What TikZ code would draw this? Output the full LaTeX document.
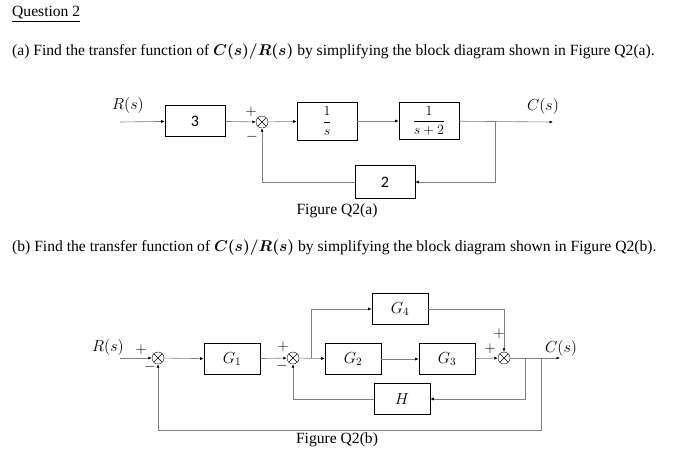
\RequirePackage{fix-cm}
\documentclass[tikz,border=0pt]{standalone}
\usepackage{amsmath,bm}
\usepackage{fontspec}
\setmainfont{Liberation Serif}
\newfontfamily\blk{Carlito}
\usetikzlibrary{arrows.meta}
\begin{document}
\begin{tikzpicture}[x=1pt,y=-1pt,
  blk/.style={draw=black,line width=0.6pt,minimum width=#1,minimum height=31pt,inner sep=0pt,font=\blk\fontsize{16}{17}\selectfont},
  blk/.default=60pt,
  sum/.style={draw=black,circle,minimum size=12pt,inner sep=0pt,path picture={
    \draw[black] (path picture bounding box.north west)--(path picture bounding box.south east)
     (path picture bounding box.north east)--(path picture bounding box.south west);}},
  sig/.style={draw=black!50,line width=0.6pt},
  arr/.style={sig,-{Latex[length=3.5pt,width=3pt,black]}},
  lbl/.style={font=\fontsize{16}{17}\selectfont},
  sgn/.style={font=\fontsize{15}{16}\selectfont,inner sep=0pt},
  txt/.style={anchor=west,inner sep=0pt,font=\fontsize{15.6}{18}\selectfont}]
\useasboundingbox (0,0) rectangle (700,458);
% texts
\node[txt] (q) at (12,14) {\underline{Question 2}};
\node[txt] (ta) at (12,52) {(a) Find the transfer function of $\bm{C(s)/R(s)}$ by simplifying the block diagram shown in Figure Q2(a).};
\node[txt] (tb) at (12,248) {(b) Find the transfer function of $\bm{C(s)/R(s)}$ by simplifying the block diagram shown in Figure Q2(b).};
\node[font=\fontsize{15.6}{18}\selectfont] (fa) at (337,211) {Figure Q2(a)};
\node[font=\fontsize{15.6}{18}\selectfont] (fb) at (337,440) {Figure Q2(b)};

% ---- Figure Q2(a)
\coordinate (ain) at (120,122);
\node[lbl] (ra) at (128,105) {$R(s)$};
\node[blk] (b3) at (195,121) {3};
\node[sum] (s1) at (262,122) {};
\node[blk,minimum height=38pt,font=\fontsize{14}{15}\selectfont] (bi) at (327,121) {$\dfrac{1}{s}$};
\node[blk,minimum height=37pt,font=\fontsize{14}{15}\selectfont] (bs) at (429,121) {$\dfrac{1}{s+2}$};
\node[blk,minimum height=33pt] (b2) at (385,182) {2};
\coordinate (abr) at (495,122);
\coordinate (aout) at (553,122);
\node[lbl] (ca) at (543,106) {$C(s)$};
\node[sgn] at (251,112) {$+$};
\node[sgn] at (252,137) {$-$};
\draw[arr] (ain) -- (b3);
\draw[arr] (b3) -- (s1);
\draw[arr] (s1) -- (bi);
\draw[arr] (bi) -- (bs);
\draw[arr] (bs) -- (aout);
\draw[arr] (abr) |- (b2);
\draw[arr] (b2) -| (s1);

% ---- Figure Q2(b)
\coordinate (bin) at (120,358);
\node[lbl] (rb) at (108,347) {$R(s)$};
\node[sum] (t1) at (158,358) {};
\node[blk,minimum width=56pt] (g1) at (232,359) {$G_1$};
\node[sum] (t2) at (293,358) {};
\node[blk,minimum width=56pt] (g2) at (353,359) {$G_2$};
\node[blk,minimum width=56pt] (g3) at (447,359) {$G_3$};
\node[blk,minimum width=56pt] (g4) at (400,309) {$G_4$};
\node[blk,minimum width=56pt] (h) at (402,399) {$H$};
\node[sum] (t3) at (504,358) {};
\coordinate (bb) at (311,358);
\coordinate (hb) at (525,358);
\coordinate (ob) at (541,358);
\coordinate (fb0) at (541,430);
\coordinate (bout) at (560,358);
\node[lbl] (cb) at (561,348) {$C(s)$};
\node[sgn] at (141,350) {$+$};
\node[sgn] at (150,367) {$-$};
\node[sgn] at (283,347) {$+$};
\node[sgn] at (282,366) {$-$};
\node[sgn] at (499,334) {$+$};
\node[sgn] at (490,349) {$+$};
\draw[arr] (bin) -- (t1);
\draw[arr] (t1) -- (g1);
\draw[arr] (g1) -- (t2);
\draw[arr] (t2) -- (g2);
\draw[arr] (bb) |- (g4);
\draw[arr] (g2) -- (g3);
\draw[arr] (g3) -- (t3);
\draw[arr] (g4) -| (t3);
\draw[arr] (t3) -- (bout);
\draw[arr] (hb) |- (h);
\draw[arr] (h) -| (t2);
\draw[arr] (ob) -- (fb0) -| (t1);
\end{tikzpicture}
\end{document}
